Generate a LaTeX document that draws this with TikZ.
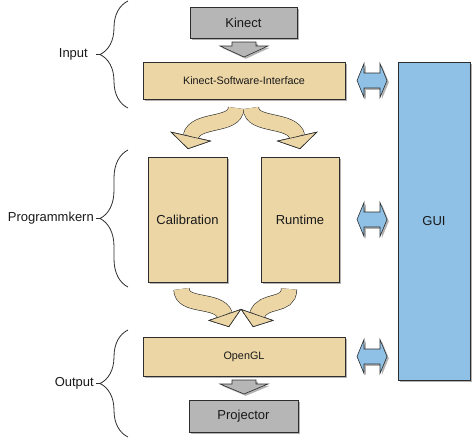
\documentclass[tikz,border=0pt]{standalone}
\usepackage{fontspec}
\setmainfont{Liberation Sans}
\usetikzlibrary{arrows.meta,decorations.pathreplacing,shadows,calc}
\definecolor{beige}{RGB}{236,214,166}
\definecolor{graybox}{RGB}{182,182,182}
\definecolor{guiblue}{RGB}{143,193,230}
\definecolor{edge}{RGB}{45,45,45}
\definecolor{txt}{RGB}{25,25,25}
\begin{document}
\begin{tikzpicture}[x=1pt,y=-1pt,
  shadowed/.style={drop shadow={shadow xshift=1.8pt,shadow yshift=-1.8pt,fill=black,opacity=0.3}},
  box/.style={draw=edge,line width=0.6pt,inner sep=0pt,outer sep=0pt,text=txt,shadowed},
  big/.style={font=\fontsize{13}{15}\selectfont},
  small/.style={font=\fontsize{10.8}{13}\selectfont},
  grey box/.style={box,fill=graybox},
  beige box/.style={box,fill=beige},
  blue box/.style={box,fill=guiblue},
  grey arrow/.style={draw=edge,line width=0.6pt,fill=graybox,shadowed},
  blue arrow/.style={draw=edge,line width=0.6pt,fill=guiblue,shadowed},
  arm shadow/.style={line width=15pt,draw=black!22,-{Triangle[length=13pt,width=#1,line width=0.6pt,color=black!22,fill=black!22]}},
  arm out/.style={line width=16.2pt,draw=edge,-{Triangle[length=13pt,width=#1,line width=0.6pt,color=edge,fill=edge]}},
  arm in/.style={line width=15pt,draw=beige,-{Triangle[length=13pt,width=#1,line width=0.6pt,color=edge,fill=beige]}},
  bracestyle/.style={draw=edge,line width=0.8pt,decorate,decoration={brace,amplitude=28pt}},
  label/.style={anchor=east,text=txt,font=\fontsize{13}{15}\selectfont,inner sep=0pt}
]
\useasboundingbox (0,0) rectangle (474,440);

% boxes
\node[grey box,big,minimum width=107pt,minimum height=31pt] (kinect) at (243.5,22.5) {Kinect};
\node[beige box,small,minimum width=202pt,minimum height=37pt] (ksi) at (244,80.5) {Kinect-Software-Interface};
\node[beige box,big,minimum width=79pt,minimum height=125pt] (calib) at (187.5,219.5) {Calibration};
\node[beige box,big,minimum width=78pt,minimum height=125pt] (runtime) at (300,219.5) {Runtime};
\node[beige box,small,minimum width=202pt,minimum height=39pt] (opengl) at (244,356.5) {OpenGL};
\node[grey box,big,minimum width=109pt,minimum height=32pt] (projector) at (243.5,416) {Projector};
\node[blue box,big,minimum width=72pt,minimum height=318pt] (gui) at (434,221) {GUI};

% grey block arrows
\coordinate (g1) at ($(kinect.south)+(0.5,4)$);
\draw[grey arrow,shift={(g1)}] (-12,0) -- (12,0) -- (12,4) -- (24,4) -- (0,15) -- (-24,4) -- (-12,4) -- cycle;
\coordinate (g2) at ($(opengl.south)+(0,4)$);
\draw[grey arrow,shift={(g2)}] (-12,0) -- (12,0) -- (12,4) -- (24,4) -- (0,14) -- (-24,4) -- (-12,4) -- cycle;

% blue double arrows
\coordinate (d1) at ($(ksi.east -| 372,0)$);
\coordinate (d2) at ($(calib.east -| 372,0)$);
\coordinate (d3) at ($(opengl.east -| 372,0)$);
\foreach \c in {d1,d2,d3}{
  \draw[blue arrow,shift={(\c)}] (-15,0) -- (-8,-17) -- (-8,-7.5) -- (8,-7.5) -- (8,-17) -- (15,0) -- (8,17) -- (8,7.5) -- (-8,7.5) -- (-8,17) -- cycle;
}

% curved block arrows
\coordinate (a1s) at ($(ksi.south)+(-8,9)$);
\coordinate (a1e) at ($(calib.north)+(0.5,-8)$);
\coordinate (a2s) at ($(ksi.south)+(7,9)$);
\coordinate (a2e) at ($(runtime.north)+(0,-8)$);
\coordinate (b1s) at ($(calib.south)+(-6,7)$);
\coordinate (b1e) at ($(opengl.north)+(-15,-10)$);
\coordinate (b2s) at ($(runtime.south)+(-11,7)$);
\coordinate (b2e) at ($(opengl.north)+(9,-10)$);

\begin{scope}[shift={(2,2)}]
\draw[arm shadow=42pt] (a1s) .. controls +(0,19) and +(7,-31) .. (a1e);
\draw[arm shadow=42pt] (a2s) .. controls +(0,19) and +(-7,-31) .. (a2e);
\draw[arm shadow=35pt] (b1s) .. controls +(0,19) and +(-10,-29) .. (b1e);
\draw[arm shadow=35pt] (b2s) .. controls +(0,19) and +(10,-29) .. (b2e);
\end{scope}
\draw[arm out=42pt] (a1s) .. controls +(0,19) and +(7,-31) .. (a1e);
\draw[arm out=42pt] (a2s) .. controls +(0,19) and +(-7,-31) .. (a2e);
\draw[arm in=42pt] (a1s) .. controls +(0,19) and +(7,-31) .. (a1e);
\draw[arm in=42pt] (a2s) .. controls +(0,19) and +(-7,-31) .. (a2e);
\draw[arm out=35pt] (b1s) .. controls +(0,19) and +(-10,-29) .. (b1e);
\draw[arm out=35pt] (b2s) .. controls +(0,19) and +(10,-29) .. (b2e);
\draw[arm in=35pt] (b1s) .. controls +(0,19) and +(-10,-29) .. (b1e);
\draw[arm in=35pt] (b2s) .. controls +(0,19) and +(10,-29) .. (b2e);

% braces and labels
\coordinate (i1) at (128,108); \coordinate (i2) at (128,1);
\coordinate (p1) at (128,287); \coordinate (p2) at (128,150);
\coordinate (o1) at (128,437); \coordinate (o2) at (128,330);
\draw[bracestyle] (i1) -- (i2);
\draw[bracestyle] (p1) -- (p2);
\draw[bracestyle] (o1) -- (o2);
\coordinate (it) at (100,54.5);
\coordinate (pt) at (100,218.5);
\coordinate (ot) at (100,383.5);
\draw[edge,line width=0.8pt] (it) -- ++(-4,0);
\draw[edge,line width=0.8pt] (pt) -- ++(-4,0);
\draw[edge,line width=0.8pt] (ot) -- ++(-4,0);
\node[label] (linput) at ($(it)+(-12,0)$) {Input};
\node[label] (lprog) at ($(pt)+(-6,0)$) {Programmkern};
\node[label] (lout) at ($(ot)+(-6,0)$) {Output};
\end{tikzpicture}
\end{document}
